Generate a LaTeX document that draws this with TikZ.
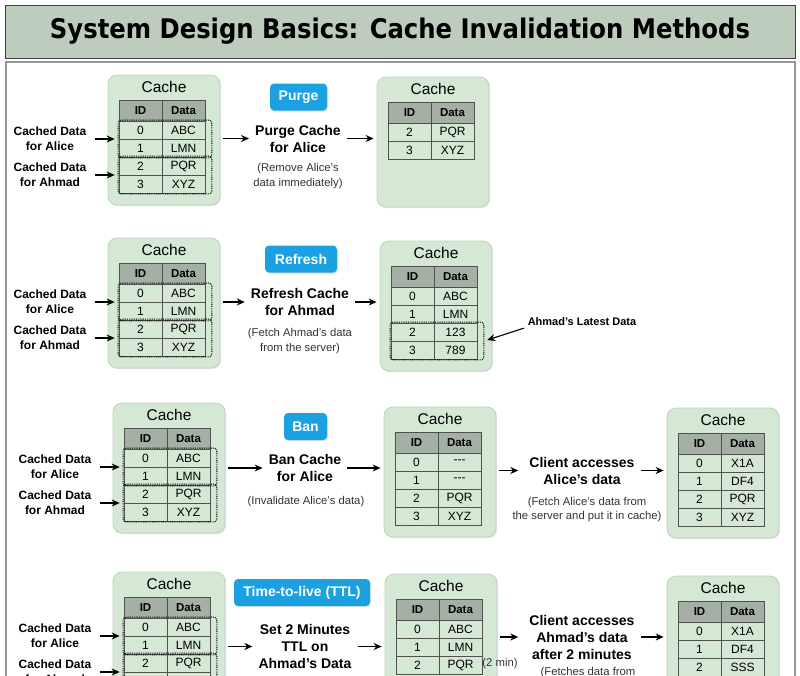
\documentclass[tikz,border=0pt]{standalone}
\usepackage{fontspec}
\setmainfont{Liberation Sans}
\newfontfamily\titlefont{DejaVu Sans Condensed}
\usetikzlibrary{arrows.meta,calc,fit,shadows}
\definecolor{titleGreen}{RGB}{189,204,189}
\definecolor{cacheGreen}{RGB}{213,232,212}
\definecolor{cacheEdge}{RGB}{192,210,191}
\definecolor{headGray}{RGB}{164,176,163}
\definecolor{gridGray}{RGB}{80,80,80}
\definecolor{tagBlue}{RGB}{27,161,226}
\definecolor{frameGray}{RGB}{150,150,150}
\definecolor{noteGray}{RGB}{51,51,51}
\newcommand{\NoData}{-{}-{}-}
% one cache: name, left, top, rows (id/value)
\newcommand{\CacheBox}[4]{%
  \node[cachebg] (#1) at ({#2+56},{#3+65}) {};
  \node[cachelbl] (#1-lbl) at ({#2+56},{#3+12}) {Cache};
  \node[headcell] (#1-hid) at ({#2+32.5},{#3+35.5}) {ID};
  \node[headcell] (#1-hdata) at ({#2+75.5},{#3+35.5}) {Data};
  \foreach \id/\val [count=\k from 0] in {#4}{
    \node[cell] (#1-i\k) at ({#2+32.5},{#3+55+18*\k}) {\id};
    \node[cell] (#1-d\k) at ({#2+75.5},{#3+55+18*\k}) {\val};
  }%
}
% dotted group round some rows of a cache
\newcommand{\CacheGroup}[4]{%
  \node[grpbox, fit={(#2-i#3.north west) ($(#2-d#4.south east)+(6,0)$)}] (#1) {};
}

\tikzset{
  titlebar/.style={draw=black!75,fill=titleGreen,line width=0.8pt,minimum width=790pt,minimum height=53pt,inner sep=0pt},
  cachebg/.style={rounded corners=9pt,fill=cacheGreen,draw=cacheEdge,line width=0.8pt,minimum width=112pt,minimum height=130pt,
    drop shadow={opacity=0.2,shadow xshift=1.2pt,shadow yshift=-1.2pt}},
  cachelbl/.style={font=\fontsize{15.5}{18}\selectfont,inner sep=1pt},
  headcell/.style={draw=gridGray,fill=headGray,line width=0.8pt,minimum width=43pt,minimum height=21pt,inner sep=0pt,
    font=\bfseries\fontsize{11.5}{13}\selectfont},
  cell/.style={draw=gridGray,fill=cacheGreen,line width=0.8pt,minimum width=43pt,minimum height=18pt,inner sep=0pt,
    font=\fontsize{12}{14}\selectfont},
  grpbox/.style={draw=black,line width=0.9pt,dash pattern=on 0.9pt off 0.9pt,rounded corners=3pt,inner sep=0.5pt},
  sidelbl/.style={font=\bfseries\fontsize{12}{15}\selectfont,align=center,inner sep=1pt},
  actlbl/.style={font=\bfseries\fontsize{14}{17}\selectfont,align=center,inner sep=3pt},
  notelbl/.style={font=\fontsize{11.3}{14.5}\selectfont,text=noteGray,align=center,inner sep=1pt},
  tagbox/.style={fill=tagBlue,text=white,rounded corners=4pt,minimum height=27pt,inner xsep=2pt,inner ysep=0pt,
    font=\bfseries\fontsize{14}{16}\selectfont,drop shadow={opacity=0.25,shadow xshift=1pt,shadow yshift=-1.2pt}},
  arr/.style={-{Stealth[length=8pt,width=7pt]},line width=1.1pt,shorten <=3pt,shorten >=3pt},
}

\begin{document}
\begin{tikzpicture}[x=1pt,y=-1pt]
\useasboundingbox (0,0) rectangle (800,675);
\clip (0,0) rectangle (800,675);

\node[titlebar] (title) at (400,31.5) {\titlefont\bfseries\fontsize{27}{31}\selectfont System Design Basics: Cache Invalidation Methods};
\draw[frameGray,line width=1.6pt] (6,62) rectangle (795,720);

% Purge
\CacheBox{purgeIn}{108}{75}{0/ABC,1/LMN,2/PQR,3/XYZ}
\CacheGroup{purgeIn-alice}{purgeIn}{0}{1}
\CacheGroup{purgeIn-ahmad}{purgeIn}{2}{3}
\node[sidelbl] (purgeAlice) at (50,139) {Cached Data\\for Alice};
\node[sidelbl] (purgeAhmad) at (50,175) {Cached Data\\for Ahmad};
\node[tagbox,minimum width=57pt] (purgeTag) at (298.5,97) {Purge};
\node[actlbl] (purgeAct) at (298,138.5) {Purge Cache\\for Alice};
\node[notelbl] (purgeNote) at (298,176) {(Remove Alice's\\data immediately)};
\CacheBox{purgeOut}{377}{77}{2/PQR,3/XYZ}
\draw[arr,shorten <=7pt] (purgeAlice.east) -- (purgeIn-alice.west);
\draw[arr,shorten <=7pt] (purgeAhmad.east) -- (purgeIn-ahmad.west);
\draw[arr] (purgeIn.east |- purgeAct.west) -- (purgeAct.west);
\draw[arr] (purgeAct.east) -- (purgeAct.east -| purgeOut.west);

% Refresh
\CacheBox{refreshIn}{108}{238}{0/ABC,1/LMN,2/PQR,3/XYZ}
\CacheGroup{refreshIn-alice}{refreshIn}{0}{1}
\CacheGroup{refreshIn-ahmad}{refreshIn}{2}{3}
\node[sidelbl] (refreshAlice) at (50,302) {Cached Data\\for Alice};
\node[sidelbl] (refreshAhmad) at (50,338) {Cached Data\\for Ahmad};
\node[tagbox,minimum width=72pt] (refreshTag) at (301,259) {Refresh};
\node[actlbl] (refreshAct) at (300,302) {Refresh Cache\\for Ahmad};
\node[notelbl] (refreshNote) at (300,341) {(Fetch Ahmad's data\\from the server)};
\CacheBox{refreshOut}{380}{241}{0/ABC,1/LMN,2/123,3/789}
\CacheGroup{refreshOut-new}{refreshOut}{2}{3}
\node[sidelbl,font=\bfseries\fontsize{11}{13}\selectfont] (refreshLatest) at (582,322) {Ahmad's Latest Data};
\draw[arr,shorten <=7pt] (refreshAlice.east) -- (refreshIn-alice.west);
\draw[arr,shorten <=7pt] (refreshAhmad.east) -- (refreshIn-ahmad.west);
\draw[arr] (refreshIn.east |- refreshAct.west) -- (refreshAct.west);
\draw[arr] (refreshAct.east) -- (refreshAct.east -| refreshOut.west);
\draw[arr] (refreshLatest.south west) -- (refreshOut-new.east);

% Ban
\CacheBox{banIn}{113}{403}{0/ABC,1/LMN,2/PQR,3/XYZ}
\CacheGroup{banIn-alice}{banIn}{0}{1}
\CacheGroup{banIn-ahmad}{banIn}{2}{3}
\node[sidelbl] (banAlice) at (55,467) {Cached Data\\for Alice};
\node[sidelbl] (banAhmad) at (55,503) {Cached Data\\for Ahmad};
\node[tagbox,minimum width=43pt] (banTag) at (305.5,426.5) {Ban};
\node[actlbl] (banAct) at (305,468) {Ban Cache\\for Alice};
\node[notelbl] (banNote) at (306,502) {(Invalidate Alice's data)};
\CacheBox{banMid}{384}{407}{0/\NoData,1/\NoData,2/PQR,3/XYZ}
\node[actlbl] (banClient) at (582,470.5) {Client accesses\\Alice's data};
\node[notelbl] (banFetch) at (587,509.5) {(Fetch Alice's data from\\the server and put it in cache)};
\CacheBox{banOut}{667}{408}{0/X1A,1/DF4,2/PQR,3/XYZ}
\draw[arr,shorten <=7pt] (banAlice.east) -- (banIn-alice.west);
\draw[arr,shorten <=7pt] (banAhmad.east) -- (banIn-ahmad.west);
\draw[arr] (banIn.east |- banAct.west) -- (banAct.west);
\draw[arr] (banAct.east) -- (banAct.east -| banMid.west);
\draw[arr,shorten >=8pt] (banMid.east |- banClient.west) -- (banClient.west);
\draw[arr] (banClient.east) -- (banClient.east -| banOut.west);

% Time-to-live
\CacheBox{ttlIn}{113}{572}{0/ABC,1/LMN,2/PQR,{}/{}}
\CacheGroup{ttlIn-alice}{ttlIn}{0}{1}
\CacheGroup{ttlIn-ahmad}{ttlIn}{2}{3}
\node[sidelbl] (ttlAlice) at (55,636) {Cached Data\\for Alice};
\node[sidelbl] (ttlAhmad) at (55,672) {Cached Data\\for Ahmad};
\node[tagbox,minimum width=136pt] (ttlTag) at (302,592.5) {Time-to-live (TTL)};
\node[actlbl] (ttlAct) at (305,646.5) {Set 2 Minutes\\TTL on\\Ahmad's Data};
\CacheBox{ttlMid}{385}{574}{0/ABC,1/LMN,2/PQR}
\node[notelbl] (ttlTimer) at (500,664) {(2 min)};
\node[actlbl] (ttlClient) at (582,637) {Client accesses\\Ahmad's data\\after 2 minutes};
\node[notelbl] (ttlFetch) at (588,673) {(Fetches data from};
\CacheBox{ttlOut}{667}{576}{0/X1A,1/DF4,2/SSS}
\draw[arr,shorten <=7pt] (ttlAlice.east) -- (ttlIn-alice.west);
\draw[arr,shorten <=7pt] (ttlAhmad.east) -- (ttlIn-ahmad.west);
\draw[arr] (ttlIn.east |- ttlAct.west) -- (ttlAct.west);
\draw[arr] (ttlAct.east) -- (ttlAct.east -| ttlMid.west);
\draw[arr,shorten >=8pt] (ttlMid.east |- ttlClient.west) -- (ttlClient.west);
\draw[arr] (ttlClient.east) -- (ttlClient.east -| ttlOut.west);
\end{tikzpicture}
\end{document}
